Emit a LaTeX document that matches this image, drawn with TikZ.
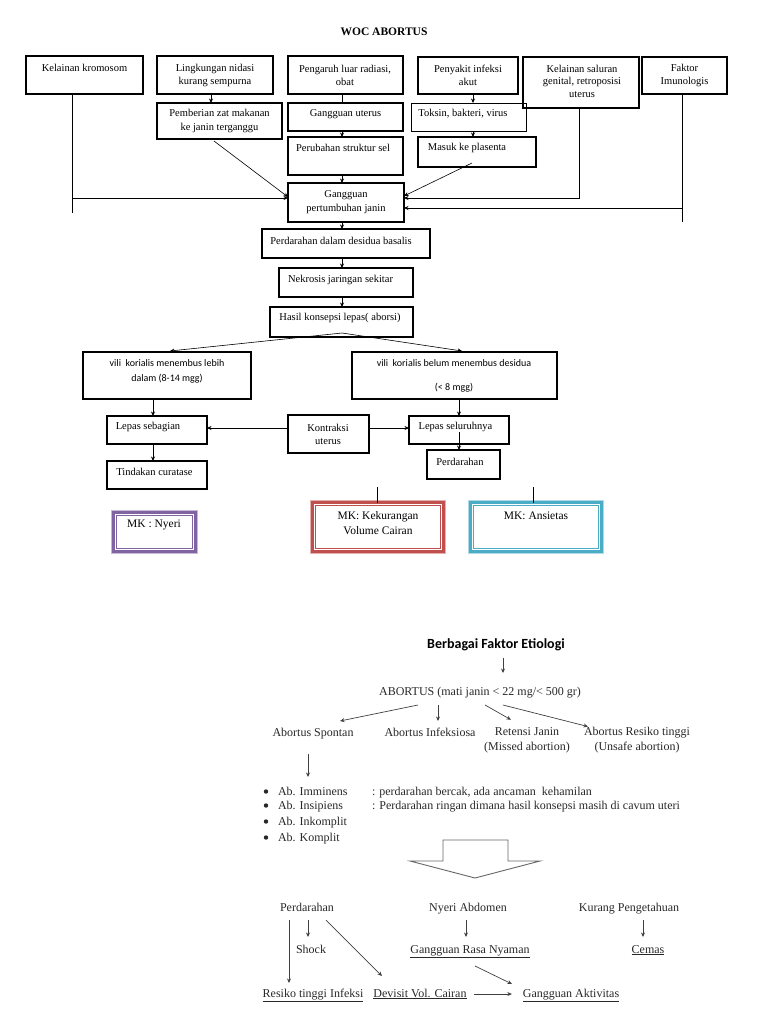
\documentclass[tikz,border=0pt]{standalone}
\usepackage{fontspec}
\setmainfont{Liberation Serif}
\newfontfamily\calfont{Carlito}
\usetikzlibrary{arrows.meta,fit,calc}
\definecolor{mkpurple}{RGB}{128,100,162}
\definecolor{mkred}{RGB}{192,80,77}
\definecolor{mkteal}{RGB}{75,172,198}
\definecolor{txtgray}{RGB}{40,40,40}
\begin{document}
\begin{tikzpicture}[x=1pt,y=-1pt,
  every node/.style={inner sep=0pt, outer sep=0pt},
  tb/.style={draw, line width=2.2pt, inner sep=0pt},
  xb/.style={draw, line width=2.8pt, inner sep=0pt},
  mb/.style={draw, line width=1.5pt, inner sep=0pt},
  nb/.style={draw, line width=0.9pt, inner sep=0pt},
  tx/.style={font=\fontsize{10.5}{13}\selectfont, align=center},
  cx/.style={font=\calfont\fontsize{10}{15}\selectfont, align=center},
  mk/.style={font=\fontsize{11.5}{15}\selectfont, align=center},
  bt/.style={font=\fontsize{12}{15}\selectfont, text=txtgray, text height=8.5pt, text depth=2.5pt},
  btm/.style={font=\fontsize{12}{15}\selectfont, text=txtgray, align=center},
  arr/.style={-{Stealth[length=4.5pt,width=4pt]}, line width=0.6pt},
  arr2/.style={-{Stealth[length=4.5pt,width=4pt]}, line width=0.7pt, draw=black!75},
  ln/.style={line width=0.6pt},
  mkbox/.style={draw=#1, line width=3pt, inner sep=0pt}
]
\useasboundingbox (0,0) rectangle (768,1024);

% ---------- Title ----------
\node[font=\bfseries\fontsize{11.5}{14}\selectfont] (title) at (384,32) {WOC ABORTUS};

% ---------- Top row ----------
\node[tb, fit={(26,56) (143,94)}] (kk) {};
\node[tx] (kkt) at (84.5,68) {Kelainan kromosom};
\node[tb, fit={(157,56) (273,94)}] (lk) {};
\node[tx] (lkt) at (215,75) {Lingkungan nidasi\\kurang sempurna};
\node[tb, fit={(288,56) (403,94)}] (pl) {};
\node[tx] (plt) at (345,75) {Pengaruh luar radiasi,\\obat};
\node[xb, fit={(418,57) (518,94)}] (pi) {};
\node[tx] (pit) at (468,75) {Penyakit infeksi\\akut};
\node[tb, fit={(523,57) (639,108)}] (ks) {};
\node[tx, font=\fontsize{10.5}{12.5}\selectfont] (kst) at (582,81) {Kelainan saluran\\genital, retroposisi\\uterus};
\node[tb, fit={(642,57) (727,94)}] (fi) {};
\node[tx] (fit) at (684.5,75) {Faktor\\Imunologis};

% ---------- second / third rows ----------
\node[tb, fit={(157,103) (282,139)}] (pz) {};
\node[tx, font=\fontsize{10.5}{14}\selectfont] (pzt) at (219.5,121) {Pemberian zat makanan\\ke janin terganggu};
\node[mb, fit={(288,103) (403,131)}] (gu) {};
\node[tx] (gut) at (345.5,114) {Gangguan uterus};
\node[nb, fit={(411,103) (526,131)}] (tk) {};
\node[tx] (tkt) at (463,114) {Toksin, bakteri, virus};
\node[tb, fit={(288,137) (403,175)}] (ps) {};
\node[tx] (pst) at (343,148) {Perubahan struktur sel};
\node[tb, fit={(418,137) (536,167)}] (mp) {};
\node[tx] (mpt) at (467,148) {Masuk ke plasenta};
\node[tb, fit={(288,183) (404,222)}] (gp) {};
\node[tx, font=\fontsize{10.5}{14.5}\selectfont] (gpt) at (346,202) {Gangguan\\pertumbuhan janin};

% ---------- middle chain ----------
\node[mb, fit={(262,229) (430,258)}] (pd) {};
\node[tx] (pdt) at (341,241) {Perdarahan dalam desidua basalis};
\node[tb, fit={(279,268) (413,297)}] (nk) {};
\node[tx] (nkt) at (340.5,280) {Nekrosis jaringan sekitar};
\node[tb, fit={(270,307) (413,337)}] (hk) {};
\node[tx] (hkt) at (340,318) {Hasil konsepsi lepas( aborsi)};

\node[mb, fit={(83,352) (251,399)}] (vl) {};
\node[cx] (vlt) at (167,371.5) {vili\ \ korialis menembus lebih\\dalam (8-14 mgg)};
\node[mb, fit={(352,352) (557,399)}] (vr) {};
\node[cx, font=\calfont\fontsize{10}{24}\selectfont] (vrt) at (454,376) {vili\ \ korialis belum menembus desidua\\(< 8 mgg)};

\node[tb, fit={(107,416) (207,444)}] (ls) {};
\node[tx] (lst) at (148,427) {Lepas sebagian};
\node[tb, fit={(107,461) (207,489)}] (tc) {};
\node[tx] (tct) at (154.5,472) {Tindakan curatase};
\node[mb, fit={(288,415) (369,453)}] (kt) {};
\node[tx] (ktt) at (328,434) {Kontraksi\\uterus};
\node[tb, fit={(409,416) (509,444)}] (lr) {};
\node[tx] (lrt) at (455.5,427) {Lepas seluruhnya};
\node[tb, fit={(427,450) (500,479)}] (pr) {};
\node[tx] (prt) at (460,462) {Perdarahan};

% ---------- MK boxes ----------
\node[mkbox=mkpurple, fit={(113.5,512.5) (195.5,551.5)}] (mk1) {};
\draw[mkpurple, line width=0.8pt] ($(mk1.north west)+(3.2,3.2)$) rectangle ($(mk1.south east)+(-3.2,-3.2)$);
\draw[mkpurple!45, line width=0.5pt] ($(mk1.north west)+(-2,-2)$) rectangle ($(mk1.south east)+(2,2)$);
\node[mk] (mk1t) at (154,525) {MK : Nyeri};

\node[mkbox=mkred, fit={(312.5,502.5) (443.5,551.5)}] (mk2) {};
\draw[mkred, line width=0.8pt] ($(mk2.north west)+(3.2,3.2)$) rectangle ($(mk2.south east)+(-3.2,-3.2)$);
\draw[mkred!45, line width=0.5pt] ($(mk2.north west)+(-2,-2)$) rectangle ($(mk2.south east)+(2,2)$);
\node[mk] (mk2t) at (378,523) {MK: Kekurangan\\Volume Cairan};

\node[mkbox=mkteal, fit={(470.5,502.5) (601.5,551.5)}] (mk3) {};
\draw[mkteal, line width=0.8pt] ($(mk3.north west)+(3.2,3.2)$) rectangle ($(mk3.south east)+(-3.2,-3.2)$);
\draw[mkteal!45, line width=0.5pt] ($(mk3.north west)+(-2,-2)$) rectangle ($(mk3.south east)+(2,2)$);
\node[mk] (mk3t) at (536,516) {MK: Ansietas};

% ---------- top connectors ----------
\draw[ln] ($(kk.south)+(-12.5,0)$) -- ++(0,119);
\draw[arr] ($(kk.south)+(-12.5,104)$) -- ($(gp.west)+(0,-4.5)$);
\draw[arr] ($(lk.south)+(-4,0)$) -- ($(pz.north)+(-8.5,0)$);
\draw[arr] ($(pz.south)+(-5.5,2)$) -- ($(gp.west)+(0,-5.5)$);
\draw[ln] ($(pl.south)+(-3.5,0)$) -- ($(gu.north)+(-3.5,0)$);
\draw[arr] ($(gu.south)+(-3.5,0)$) -- ($(ps.north)+(-3.5,0)$);
\draw[arr] ($(ps.south)+(-3.5,0)$) -- ($(gp.north)+(-4,0)$);
\draw[arr] ($(pi.south)+(5,0)$) -- ($(tk.north)+(4.5,0)$);
\draw[arr] ($(tk.south)+(4.5,0)$) -- ($(mp.north)+(-4,0)$);
\draw[arr] ($(mp.south)+(-5,-4)$) -- ($(gp.east)+(0,-6.5)$);
\draw[arr] ($(ks.south)+(-2,0)$) |- ($(gp.east)+(0,-4.5)$);
\draw[ln] ($(fi.south)+(-2.5,0)$) -- ++(0,128);
\draw[arr] ($(fi.south)+(-2.5,114)$) -- ($(gp.east)+(0,5.5)$);

% ---------- middle connectors ----------
\draw[arr] ($(gp.south)+(-4,0)$) -- ($(pd.north)+(-4,0)$);
\draw[arr] ($(pd.south)+(-4,0)$) -- ($(nk.north)+(-4,0)$);
\draw[arr] ($(nk.south)+(-4,0)$) -- ($(hk.north)+(0.5,0)$);
\draw[arr] ($(hk.south)+(0.5,-4)$) -- ($(vl.north)+(3,-1)$);
\draw[arr] ($(hk.south)+(0.5,-4)$) -- ($(vr.north)+(7.5,-1)$);
\draw[arr] ($(vl.south)+(-14,0)$) -- ($(ls.north)+(-4,0)$);
\draw[arr] ($(ls.south)+(-4,0)$) -- ($(tc.north)+(-4,0)$);
\draw[arr] ($(vr.south)+(4.5,0)$) -- ($(lr.north)+(0,0)$);
\draw[arr] ($(lr.south)+(0,-12)$) -- ($(pr.north)+(-4.5,0)$);
\draw[arr] ($(kt.west)+(0,-6)$) -- ($(ls.east)+(0,-2)$);
\draw[arr] ($(kt.east)+(0,-6)$) -- ($(lr.west)+(0,-2)$);
\coordinate (c1) at (377,487);
\coordinate (c2) at (533,487);
\draw[ln] (c1) -- (c1 |- mk2.north);
\draw[ln] (c2) -- (c2 |- mk3.north);

% ---------- bottom section ----------
\node[font=\calfont\bfseries\fontsize{14}{16}\selectfont, text height=9.5pt, text depth=3.5pt] (bf) at (496,645) {Berbagai Faktor Etiologi};
\node[bt] (ab) at (480,692) {ABORTUS (mati janin < 22 mg/< 500 gr)};
\draw[arr2] ($(bf.south)+(7,6)$) -- ($(ab.north)+(23,-13.5)$);

\node[bt] (as) at (313,733) {Abortus Spontan};
\node[bt] (ai) at (430,733) {Abortus Infeksiosa};
\node[btm] (rj) at (527,740.5) {Retensi Janin\\(Missed abortion)};
\node[btm] (rt) at (637,740.5) {Abortus Resiko tinggi\\(Unsafe abortion)};
\draw[arr2] ($(ab.south)+(-62,7.5)$) -- ($(as.north)+(27,-6.5)$);
\draw[arr2] ($(ab.south)+(-42,7.5)$) -- ($(ai.north)+(8,-6.5)$);
\draw[arr2] ($(ab.south)+(5,7.5)$) -- ($(rj.north)+(-16,-8)$);
\draw[arr2] ($(ab.south)+(23,7.5)$) -- ($(rt.north)+(-49,-1)$);

\node[bt, anchor=west] (b1) at (278,792) {Ab. Imminens};
\node[bt, anchor=west] (b2) at (278,806) {Ab. Insipiens};
\node[bt, anchor=west] (b3) at (278,822) {Ab. Inkomplit};
\node[bt, anchor=west] (b4) at (278,838) {Ab. Komplit};
\fill[txtgray] (266,791.5) circle (2.2pt);
\fill[txtgray] (266,805.5) circle (2.2pt);
\fill[txtgray] (266,821.5) circle (2.2pt);
\fill[txtgray] (266,837.5) circle (2.2pt);
\node[bt, anchor=west] (d1) at (372,792) {: perdarahan bercak, ada ancaman\ \ kehamilan};
\node[bt, anchor=west] (d2) at (372,806) {: Perdarahan ringan dimana hasil konsepsi masih di cavum uteri};
\draw[arr2] ($(as.south)+(-5,15)$) -- ($(b1.north west)+(30,-9.5)$);

% hollow block arrow
\draw[black!60, line width=0.9pt, line join=miter] (443,840) -- (508,840) -- (508,861) -- (540,861) -- (475,878) -- (410,861) -- (443,861) -- cycle;

\node[bt] (pd2) at (307,908) {Perdarahan};
\node[bt] (na) at (468,908) {Nyeri Abdomen};
\node[bt] (kp) at (629,908) {Kurang Pengetahuan};
\node[bt] (sh) at (311,950) {Shock};
\node[bt] (grn) at (470,950) {\underline{Gangguan Rasa Nyaman}};
\node[bt] (cm) at (648,950) {\underline{Cemas}};
\node[bt] (ri) at (313,994) {\underline{Resiko tinggi Infeksi}};
\node[bt] (dv) at (420,994) {\underline{Devisit Vol. Cairan}};
\node[bt] (ga) at (571,994) {\underline{Gangguan Aktivitas}};

\draw[arr2] ($(pd2.south)+(-18,6.5)$) -- ($(ri.north)+(-24,-5.5)$);
\draw[arr2] ($(pd2.south)+(1,6.5)$) -- ($(sh.north)+(-3,-7.5)$);
\draw[arr2] ($(pd2.south)+(19,6.5)$) -- ($(dv.north)+(-38,-12.5)$);
\draw[arr2] ($(na.south)+(-2,6.5)$) -- ($(grn.north)+(-4,-7.5)$);
\draw[arr2] ($(grn.south)+(5,10.5)$) -- ($(ga.north)+(-59,-4.5)$);
\draw[arr2] ($(dv.east)+(7,0)$) -- ($(ga.west)+(-11,0)$);
\draw[arr2] ($(kp.south)+(14,6.5)$) -- ($(cm.north)+(-5,-7.5)$);
\end{tikzpicture}
\end{document}
